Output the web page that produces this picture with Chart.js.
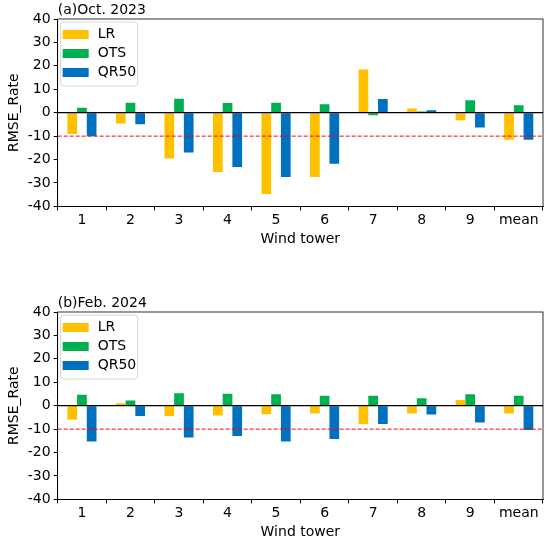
<!DOCTYPE html>
<html><head><meta charset="utf-8">
<script src="https://cdn.jsdelivr.net/npm/chart.js@4.4.0/dist/chart.umd.min.js"></script>
<style>
body{margin:0;background:#fff;}
.box{position:absolute;left:0;width:550px;height:250px;}
</style></head>
<body>
<div class="box" style="top:0"><canvas id="c1"></canvas></div>
<div class="box" style="top:293px"><canvas id="c2"></canvas></div>
<script>
const towers = ['1','2','3','4','5','6','7','8','9','mean'];
const seriesNames = ['LR','OTS','QR50'];
const seriesColors = ['#FFC000','#00B050','#0070C0'];
const octLR   = [-9.1,-4.6,-19.6,-25.3,-34.7,-27.5,18.4,1.8,-3.2,-11.5];
const octOTS  = [2.1,4.2,6.0,4.1,4.2,3.6,-1.1,0.5,5.3,3.2];
const octQR50 = [-10.0,-4.9,-17.0,-23.2,-27.4,-21.8,5.8,1.0,-6.3,-11.5];
const febLR   = [-6.0,1.0,-4.4,-4.2,-3.6,-3.3,-7.8,-3.3,2.4,-3.3];
const febOTS  = [4.7,2.2,5.3,5.1,4.9,4.3,4.3,3.2,4.9,4.3];
const febQR50 = [-15.3,-4.4,-13.6,-12.9,-15.3,-14.2,-7.8,-3.8,-7.2,-10.4];
const yTicks = [-40,-30,-20,-10,0,10,20,30,40];
const threshold = -10;

Chart.defaults.font.family = 'DejaVu Sans';
Chart.defaults.color = '#000';

const deco = {
  id:'deco',
  afterDatasetsDraw(chart, args, opts){
    const {ctx, chartArea:a, scales:{y}} = chart;
    ctx.save();
    ctx.strokeStyle='#000'; ctx.lineWidth=1.2;
    let p=y.getPixelForValue(0);
    ctx.beginPath(); ctx.moveTo(a.left,p); ctx.lineTo(a.right,p); ctx.stroke();
    ctx.strokeStyle='#ff0000'; ctx.setLineDash([4,2]); ctx.lineWidth=1;
    p=y.getPixelForValue(threshold);
    ctx.beginPath(); ctx.moveTo(a.left,p); ctx.lineTo(a.right,p); ctx.stroke();
    ctx.setLineDash([]);
    ctx.strokeStyle='#000'; ctx.lineWidth=0.8;
    ctx.strokeRect(a.left,a.top,a.right-a.left,a.bottom-a.top);
    const lx=a.left+3, ly=a.top+3;
    ctx.fillStyle='rgba(255,255,255,0.85)'; ctx.strokeStyle='#ccc';
    ctx.beginPath(); ctx.roundRect(lx,ly,77,64,3); ctx.fill(); ctx.stroke();
    ctx.font='14px DejaVu Sans'; ctx.textBaseline='middle';
    seriesNames.forEach((n,i)=>{
      const yy=ly+12+i*19;
      ctx.fillStyle=seriesColors[i]; ctx.fillRect(lx+2,yy-4,26,9);
      ctx.fillStyle='#000'; ctx.fillText(n,lx+37,yy);
    });
    ctx.font='14px DejaVu Sans'; ctx.textBaseline='bottom'; ctx.fillStyle='#000';
    ctx.fillText(opts.title, a.left, a.top-2);
    ctx.restore();
  }
};

function make(id, title, data){
  new Chart(document.getElementById(id), {
    type:'bar',
    data:{labels:towers, datasets:data.map((d,i)=>({label:seriesNames[i],data:d,backgroundColor:seriesColors[i],borderWidth:0}))},
    options:{
      responsive:false, animation:false,
      layout:{padding:{top:19,right:7,left:2,bottom:2}},
      categoryPercentage:0.6, barPercentage:1.0,
      plugins:{legend:{display:false},tooltip:{enabled:false},deco:{title}},
      scales:{
        x:{grid:{drawOnChartArea:false,tickLength:4,color:'#000'},border:{color:'#000'},
           ticks:{font:{size:14},padding:2},title:{display:true,text:'Wind tower',font:{size:14},padding:{top:0,bottom:0}}},
        y:{min:-40,max:40,afterBuildTicks:s=>{s.ticks=yTicks.map(v=>({value:v}));},
           grid:{drawOnChartArea:false,tickLength:4,color:'#000'},border:{color:'#000'},
           ticks:{font:{size:14}},title:{display:true,text:'RMSE_Rate',font:{size:14},padding:{bottom:2}}}
      }
    },
    plugins:[deco]
  });
}
function size(id){const c=document.getElementById(id);c.width=550;c.height=250;c.style.width='550px';c.style.height='250px';}
size('c1'); size('c2');
make('c1','(a)Oct. 2023',[octLR,octOTS,octQR50]);
make('c2','(b)Feb. 2024',[febLR,febOTS,febQR50]);
</script>
</body></html>
